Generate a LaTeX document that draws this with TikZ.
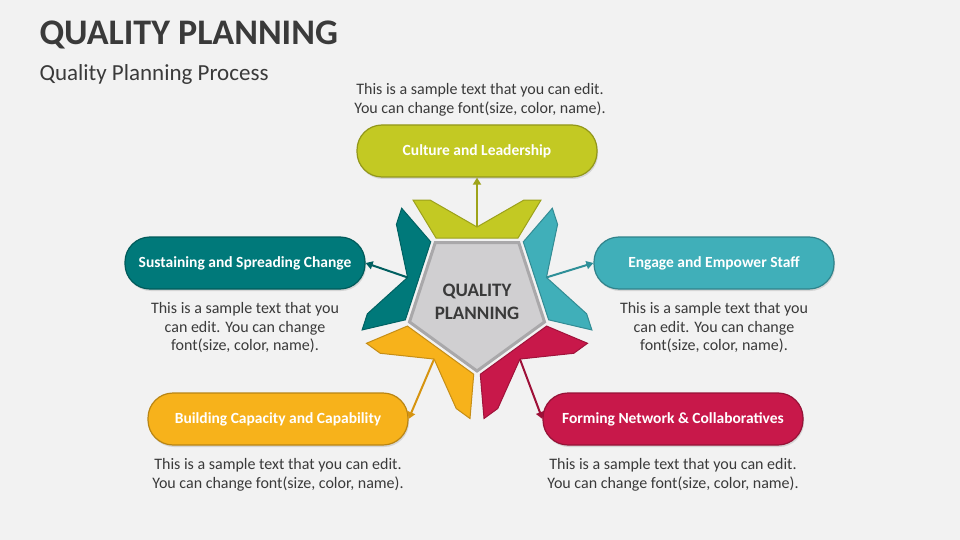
\documentclass[tikz,border=0pt]{standalone}
\usepackage{fontspec}
\setmainfont{Carlito}
\usetikzlibrary{arrows.meta,shadows}
\definecolor{bg}{HTML}{F2F2F2}
\definecolor{lime}{HTML}{C3C923}
\definecolor{limed}{HTML}{9EA31A}
\definecolor{teal1}{HTML}{00797A}
\definecolor{teal1d}{HTML}{005F60}
\definecolor{cyan1}{HTML}{40AFB9}
\definecolor{cyan1d}{HTML}{2E8F98}
\definecolor{yel}{HTML}{F7B21B}
\definecolor{yeld}{HTML}{D69410}
\definecolor{red1}{HTML}{C8184A}
\definecolor{red1d}{HTML}{9E1038}
\definecolor{pent}{HTML}{D0CFD1}
\definecolor{pentd}{HTML}{A9A8AA}
\definecolor{txt}{HTML}{3A3A3A}
\tikzset{
 pill/.style={draw=#1!75!black,line width=1.2pt,fill=#1,rounded corners=25pt,minimum width=240pt,minimum height=52pt,text=white,font=\fontsize{15.5}{18}\selectfont\bfseries,drop shadow={opacity=0.25,shadow xshift=1pt,shadow yshift=-2pt}},
 body/.style={text=txt,align=center,font=\fontsize{16}{18.5}\selectfont},
 arr/.style={line width=2pt,-{Triangle[length=7pt,width=8pt]}},
 piece/.style={line width=1pt}
}
\begin{document}
\begin{tikzpicture}[x=1pt,y=1pt]
\fill[bg] (0,0) rectangle (960,-540);
\useasboundingbox (0,0) rectangle (960,-540);
\node[anchor=west,text=txt,font=\fontsize{36}{38}\selectfont\bfseries] (title) at (36,-35) {QUALITY PLANNING};
\node[anchor=west,text=txt,font=\fontsize{23}{25}\selectfont] (sub) at (36,-74) {Quality Planning Process};
% pieces
\foreach \r/\c/\n in {0/lime/1,72/teal1/2,144/yel/3,216/red1/4,288/cyan1/5}{
 \begin{scope}[shift={(477,-300)},rotate=\r]
  \draw[piece,fill=\c,draw=\c!80!black] (-64,100)--(-47,100)--(0,73)--(47,100)--(64,100)--(41,62)--(-41,62)--cycle;
  \coordinate (n\n) at (0,73);
 \end{scope}
}
\draw[line width=3pt,draw=pentd,fill=pent]
 (477,-300) +(-90:71) -- +(-18:71) -- +(54:71) -- +(126:71) -- +(198:71) -- cycle;
\node[text=txt,align=center,font=\fontsize{19}{23}\selectfont\bfseries] (q) at (477,-302) {QUALITY\\PLANNING};
% pills
\node[pill=lime] (p1) at (477,-151) {Culture and Leadership};
\node[pill=teal1] (p2) at (245,-263) {Sustaining and Spreading Change};
\node[pill=cyan1] (p5) at (714,-263) {Engage and Empower Staff};
\node[pill=yel,minimum width=260pt] (p3) at (278,-419) {Building Capacity and Capability};
\node[pill=red1,minimum width=260pt] (p4) at (673,-419) {Forming Network \& Collaboratives};
% arrows
\draw[arr,limed] (n1) -- (p1.south);
\draw[arr,teal1d] (n2) -- (p2.east);
\draw[arr,cyan1d] (n5) -- (p5.west);
\draw[arr,yeld] (n3) -- (p3.east);
\draw[arr,red1d] (n4) -- (p4.west);
% texts
\node[body] (t1) at (480,-100) {This is a sample text that you can edit.\\You can change font(size, color, name).};
\node[body] (t2) at (245,-328) {This is a sample text that you\\can edit. You can change\\font(size, color, name).};
\node[body] (t5) at (714,-328) {This is a sample text that you\\can edit. You can change\\font(size, color, name).};
\node[body] (t3) at (278,-475) {This is a sample text that you can edit.\\You can change font(size, color, name).};
\node[body] (t4) at (673,-475) {This is a sample text that you can edit.\\You can change font(size, color, name).};
\end{tikzpicture}
\end{document}
